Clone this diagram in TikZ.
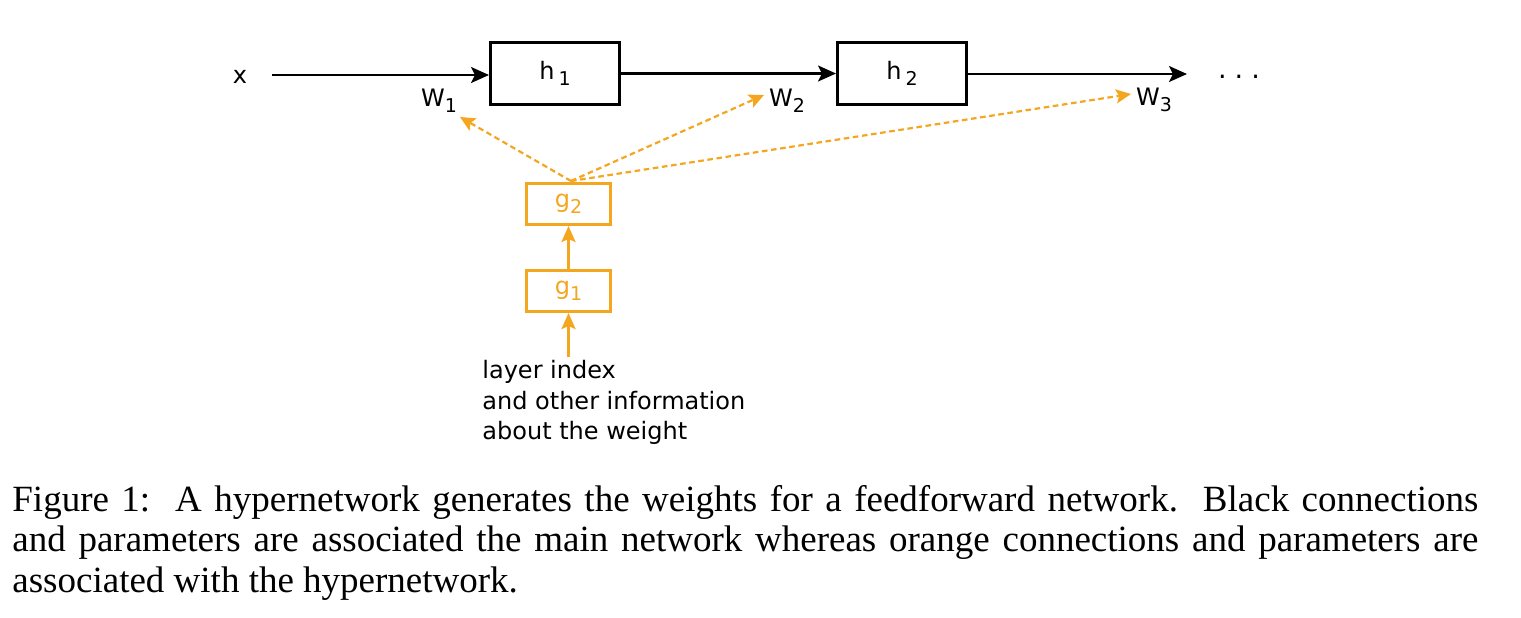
\documentclass[tikz,border=0pt]{standalone}
\usepackage{fontspec}
\setmainfont{Liberation Serif}
\newfontfamily\dv{DejaVu Sans}
\usetikzlibrary{arrows.meta}
\definecolor{hyorange}{RGB}{243,166,30}
\newcommand{\lsub}[1]{\raisebox{-0.45ex}{\fontsize{9.5}{10}\selectfont #1}}
\begin{document}
\begin{tikzpicture}[x=0.5pt,y=-0.5pt,
  lbl/.style={font=\dv\fontsize{12}{14}\selectfont, inner sep=0pt},
  hbox/.style={draw=black, line width=1.5pt, minimum width=64.5pt, minimum height=31pt, inner sep=0pt, font=\dv\fontsize{12}{14}\selectfont},
  gbox/.style={draw=hyorange, line width=1.5pt, minimum width=42pt, minimum height=20.5pt, inner sep=0pt, text=hyorange, font=\dv\fontsize{12}{14}\selectfont},
  blk/.style={line width=1.1pt, -{Stealth[length=9pt,width=8pt,inset=2pt]}},
  ora/.style={draw=hyorange, line width=1.3pt, -{Stealth[length=8pt,width=7pt,inset=1.5pt]}},
  oda/.style={draw=hyorange, line width=1.1pt, dash pattern=on 2.8pt off 1.8pt, -{Stealth[length=7.5pt,width=7pt,inset=1.5pt]}}
]
\useasboundingbox (0,0) rectangle (1521,617);
% main network
\node[lbl] (x) at (240,77) {x};
\coordinate (xs) at (272,75);
\node[hbox] (h1) at (555,73.5) {h\,\lsub{1}};
\node[hbox] (h2) at (902,73.5) {h\,\lsub{2}};
\coordinate (e) at (1187,74);
\node[lbl, anchor=base, font=\dv\fontsize{13.5}{14}\selectfont] (dots) at (1239,78) {.\hspace{0.3em}.\hspace{0.3em}.};
\draw[blk] (xs) -- (xs -| h1.west);
\draw[blk] (h1.east) -- (h2.west);
\draw[blk] (h2.east |- e) -- (e);
\node[lbl] (w1) at (439,101) {W\lsub{1}};
\node[lbl] (w2) at (787,101) {W\lsub{2}};
\node[lbl] (w3) at (1154,100) {W\lsub{3}};
% hypernetwork
\node[gbox] (g2) at (568.5,204) {g\lsub{2}};
\node[gbox] (g1) at (568.5,291) {g\lsub{1}};
\draw[ora] (g1.north) -- (g2.south);
\coordinate (li) at (568.5,357);
\draw[ora] (li) -- (g1.south);
\coordinate (gs) at (571,181);
\coordinate (t1) at (460,117);
\coordinate (t2) at (764,95);
\coordinate (t3) at (1131,94);
\draw[oda] (gs) -- (t1);
\draw[oda] (gs) -- (t2);
\draw[oda] (gs) -- (t3);
\node[lbl, anchor=north west, align=left, font=\dv\fontsize{12}{15.25}\selectfont] (info) at (482,360)
  {layer index\\and other information\\about the weight};
% caption
\node[anchor=north west, inner sep=0pt, text width=733pt, align=justify,
  font=\fontsize{18.5}{20.25}\selectfont] (cap) at (12,485)
  {Figure 1:\ \ A hypernetwork generates the weights for a feedforward network.\ \ Black connections\linebreak and parameters are associated the main network whereas orange connections and parameters are\linebreak associated with the hypernetwork.};
\end{tikzpicture}
\end{document}
